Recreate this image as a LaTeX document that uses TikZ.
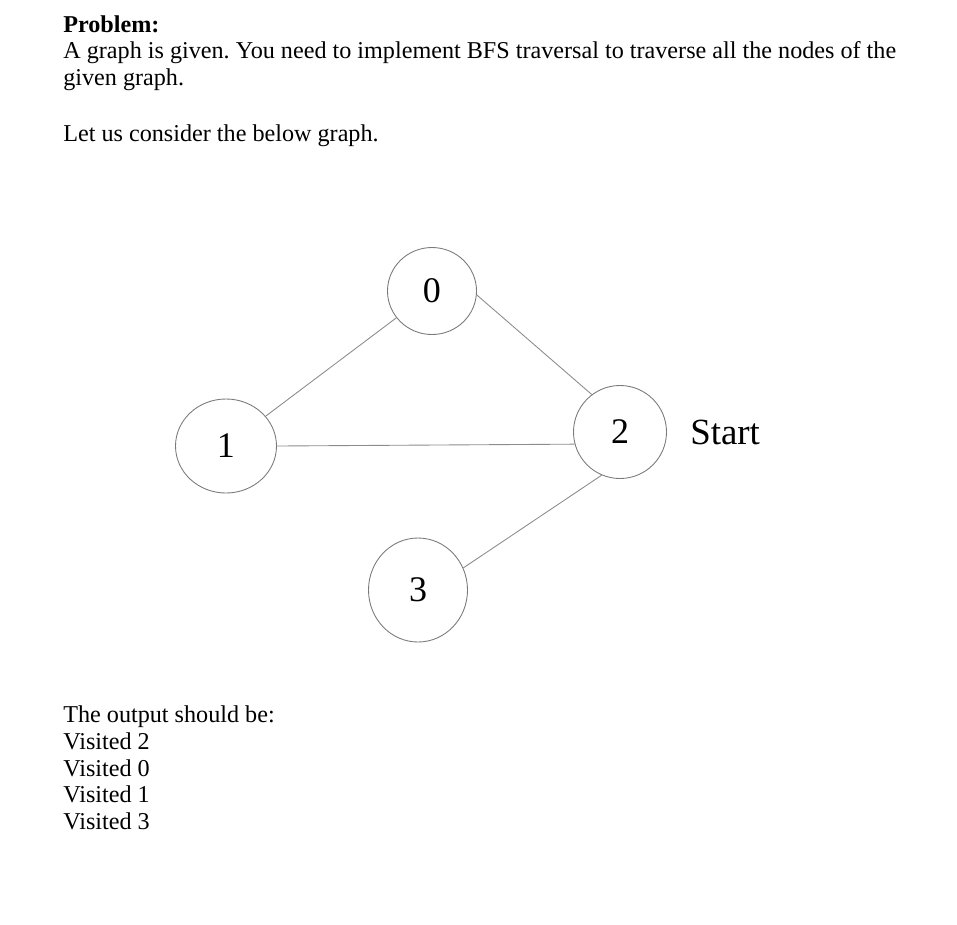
\documentclass[tikz,border=0pt]{standalone}
\usepackage{fontspec}
\setmainfont{Liberation Serif}
\usetikzlibrary{shapes.geometric,positioning}
\definecolor{edgegray}{HTML}{8C8C8C}
\definecolor{ringgray}{HTML}{7A7A7A}
\frenchspacing

\begin{document}
\begin{tikzpicture}[x=0.02cm,y=-0.02cm,
  vert/.style 2 args={ellipse,draw=ringgray,line width=0.5pt,inner sep=0pt,
    minimum width=#1*0.02cm,minimum height=#2*0.02cm,font=\fontsize{20.5}{24}\selectfont},
  edge/.style={draw=edgegray,line width=0.5pt},
  para/.style={anchor=north west,inner sep=0pt,align=left}]
  \useasboundingbox (0,0) rectangle (957,924);

  % problem statement
  \node[para,font=\fontsize{13.75}{15}\selectfont] (intro) at (63,15.5) {%
    \textbf{Problem:}\\
    A graph is given. You need to implement BFS traversal to traverse all the nodes of the\\
    given graph.\\[17pt]
    Let us consider the below graph.};

  % the graph
  \node[vert={89}{87}]  (v0) at (432,291) {0};
  \node[vert={101}{94}] (v1) at (226,446) {1};
  \node[vert={93}{93}]  (v2) at (620,432) {2};
  \node[vert={99}{104}] (v3) at (418,590) {3};
  \node[right=0.46cm of v2,inner sep=0pt,font=\fontsize{21}{24}\selectfont] (start) {Start};

  \draw[edge] (v0) -- (v1);
  \draw[edge] (v0.-5) -- (v2.127);
  \draw[edge] (v1.east) -- (v2.195);
  \draw[edge] (v2.247) -- (v3.26);

  % expected output
  \node[para,font=\fontsize{13.75}{15.2}\selectfont] (output) at (63,705.5) {%
    The output should be:\\
    Visited 2\\
    Visited 0\\
    Visited 1\\
    Visited 3};
\end{tikzpicture}
\end{document}
